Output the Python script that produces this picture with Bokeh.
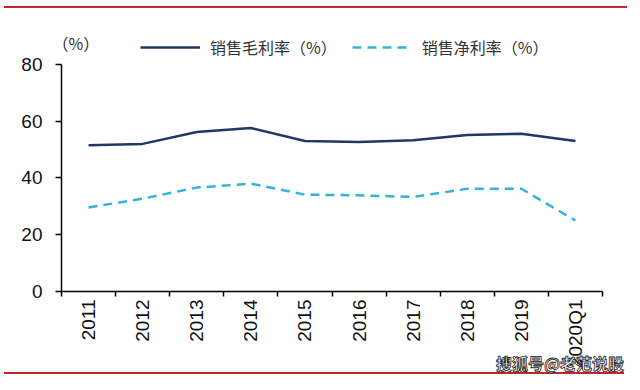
import math
from bokeh.plotting import figure
from bokeh.layouts import column
from bokeh.models import (Range1d, FixedTicker, Legend, LegendItem, Label, Div)
from bokeh.embed import file_html
from bokeh.resources import INLINE

categories = ["2011", "2012", "2013", "2014", "2015", "2016", "2017", "2018", "2019", "2020Q1"]
gross_margin = [51.5, 52.0, 56.2, 57.6, 53.0, 52.7, 53.3, 55.1, 55.6, 53.0]
net_margin = [29.6, 32.7, 36.6, 38.0, 34.1, 33.9, 33.3, 36.2, 36.2, 25.0]
y_ticks = [0, 20, 40, 60, 80]
y_axis_max = 80
y_view_max = 99.7   # headroom above the axis for the legend and unit label
series_names = ["销售毛利率（%）", "销售净利率（%）"]
unit_label = "（%）"
watermark = "搜狐号@老范说股"

xs = [i + 0.5 for i in range(len(categories))]

p = figure(width=624, height=362, output_backend="svg", toolbar_location=None,
           x_range=Range1d(0, len(categories)), y_range=Range1d(0, y_view_max),
           min_border_left=61, min_border_right=22, min_border_top=0, min_border_bottom=79)
p.outline_line_color = None
p.xgrid.visible = False
p.ygrid.visible = False
p.background_fill_color = "white"
p.border_fill_color = "white"

navy = "#1F3864"
cyan = "#35B3D6"
r1 = p.line(xs, gross_margin, line_color=navy, line_width=2.5)
r2 = p.line(xs, net_margin, line_color=cyan, line_width=2.5, line_dash="9 6")

# x axis: labels at category centres, tick marks at category boundaries
xa = p.xaxis[0]
xa.ticker = FixedTicker(ticks=xs, minor_ticks=list(range(len(categories) + 1)))
xa.major_label_overrides = {x: c for x, c in zip(xs, categories)}
xa.major_tick_line_color = None
xa.major_tick_out = 5
xa.major_tick_in = 0
xa.minor_tick_line_color = "black"
xa.minor_tick_out = 5
xa.minor_tick_in = 0
xa.minor_tick_line_width = 1.5
xa.axis_line_color = "black"
xa.axis_line_width = 1.5
xa.major_label_orientation = math.pi / 2
xa.major_label_standoff = 3
xa.major_label_text_font = "Liberation Sans"
xa.major_label_text_font_size = "19px"
xa.major_label_text_color = "#111111"

ya = p.yaxis[0]
ya.ticker = FixedTicker(ticks=y_ticks)
ya.bounds = (0, y_axis_max)
ya.minor_tick_line_color = None
ya.major_tick_out = 6
ya.major_tick_in = 0
ya.major_tick_line_width = 1.5
ya.axis_line_color = "black"
ya.axis_line_width = 1.5
ya.major_label_standoff = 13
ya.major_label_text_font = "Liberation Sans"
ya.major_label_text_font_size = "19px"
ya.major_label_text_color = "#111111"

legend = Legend(items=[LegendItem(label=series_names[0], renderers=[r1]),
                       LegendItem(label=series_names[1], renderers=[r2])],
                orientation="horizontal", location=(79, 232),
                padding=0, margin=0, spacing=15, label_standoff=10,
                glyph_width=60, glyph_height=20, label_height=20,
                border_line_color=None, background_fill_alpha=0,
                label_text_font="Noto Sans CJK SC", label_text_font_size="16px",
                label_text_color="#333333")
p.add_layout(legend, "center")

p.add_layout(Label(x=-9, y=249, x_units="screen", y_units="screen", text=unit_label,
                   text_font="Noto Sans CJK SC", text_font_size="16px",
                   text_baseline="middle", text_color="#333333"))

top_rule = Div(width=623, height=2, margin=(6, 0, 0, 4),
               styles={"background-color": "#C0282D"})
bottom_note = Div(text=watermark, width=620, height=20, margin=(-16, 0, 0, 4),
                  styles={"border-bottom": "2px solid #C0282D",
                          "text-align": "right",
                          "font-family": "'Noto Sans CJK SC'",
                          "font-size": "16px", "font-weight": "bold",
                          "line-height": "18px",
                          "color": "white",
                          "-webkit-text-stroke": "0.8px #222222"})

layout = column(top_rule, p, bottom_note, spacing=0)
open("out.html", "w").write(file_html(layout, INLINE))
